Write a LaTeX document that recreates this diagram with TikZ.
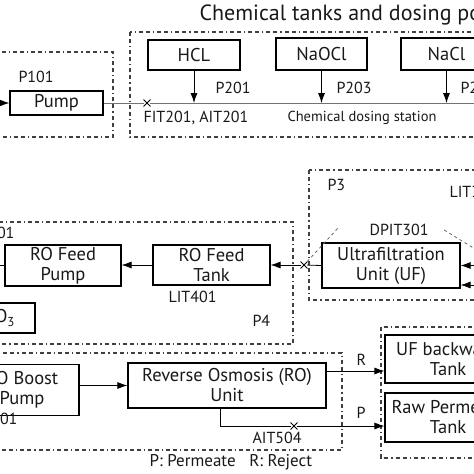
\documentclass[tikz,border=0pt]{standalone}
\usepackage{fontspec}
\setmainfont{PT Sans}
\usetikzlibrary{arrows.meta,shapes.misc}

\begin{document}
\begin{tikzpicture}[x=1pt, y=-1pt,
  unitbox/.style={draw, line width=1.2pt, align=center, inner sep=0pt, text=black!90, font=\fontsize{18.5}{20}\selectfont},
  tag/.style={text=black!90, font=\fontsize{16}{18}\selectfont, anchor=west},
  stage/.style={draw=black!75, line width=1.1pt, dash pattern=on 4pt off 3pt on 4pt off 3pt on 1.2pt off 3pt},
  flow/.style={-{Latex[length=10pt,width=7pt]}, line width=0.8pt},
  sensor/.style={draw, cross out, minimum size=6pt, inner sep=0pt, line width=0.9pt},
  dp/.style={black!60, dashed, line width=0.8pt}]
  \useasboundingbox (0,0) rectangle (474,474);
  \fill[white] (0,0) rectangle (474,474);
  \clip (0,0) rectangle (474,474);

  % stage frames
  \draw[stage] (-10,52) rectangle (113,137);
  \draw[stage] (130,32) rectangle (490,137);
  \draw[stage] (309,170) rectangle (490,300);
  \draw[stage] (-10,222) rectangle (293,344);
  \draw[stage] (-10,353) rectangle (342,450);
  \draw[stage] (381,327) rectangle (490,458);

  % P1 and chemical dosing
  \node[text=black!90, font=\fontsize{22}{24}\selectfont, anchor=west] (title) at (196,15) {Chemical tanks and dosing points};
  \node[tag] (p101) at (15,77) {P101};
  \node[unitbox, minimum width=93pt, minimum height=24pt] (pump) at (56.5,103) {Pump};
  \node[unitbox, minimum width=92pt, minimum height=30pt] (hcl) at (194,55) {HCL};
  \node[unitbox, minimum width=91pt, minimum height=32pt] (naocl) at (321.5,54) {NaOCl};
  \node[unitbox, minimum width=91pt, minimum height=32pt] (nacl) at (446.5,54) {NaCl};
  \node[sensor] (x201) at (147,103) {};
  \node[tag] (fit201) at (140,118) {FIT201, AIT201};
  \node[tag] (p201) at (212,88) {P201};
  \node[tag] (p203) at (333,88) {P203};
  \node[tag] (p205) at (457,88) {P205};
  \node[text=black!90, font=\fontsize{14.5}{16}\selectfont, anchor=west] (station) at (284,118) {Chemical dosing station};
  \coordinate (rawin) at (-10,103);
  \coordinate (dosend) at (480,103);
  \draw[flow] (rawin) -- (pump.west);
  \draw[black!55, line width=0.9pt] (pump.east) -- (x201) -- (dosend);
  \foreach \tank in {hcl,naocl,nacl}
    \draw[flow] (\tank.south) -- (\tank.south |- x201);

  % P3 and P4
  \node[tag] (p3) at (324,185) {P3};
  \node[tag] (lit301) at (446,192) {LIT301};
  \node[tag] (p4) at (249,321) {P4};
  \node[tag, anchor=east] (p401) at (18,233) {P401};
  \node[unitbox, minimum width=116pt, minimum height=41pt] (rofp) at (63,265.5) {RO Feed\\Pump};
  \node[unitbox, minimum width=117pt, minimum height=40pt] (roft) at (211.5,265) {RO Feed\\Tank};
  \node[unitbox, minimum width=138pt, minimum height=45pt] (uf) at (391,265.5) {Ultrafiltration\\Unit (UF)};
  \node[unitbox, minimum width=104pt, minimum height=30pt] (nahso) at (-17,318) {NaHSO\textsubscript{3}};
  \node[tag] (lit401) at (165,297) {LIT401};
  \node[tag] (dpit) at (366,230) {DPIT301};
  \node[sensor] (x301) at (304,265) {};
  \coordinate (rofpout) at (-5,265.5);
  \coordinate (ufin1) at (480,265.5);
  \coordinate (ufin2) at (480,285);
  \coordinate (dpend) at (480,252);
  \draw[line width=0.8pt] (rofp.west) -- (rofpout);
  \draw[flow] (roft.west) -- (roft.west -| rofp.east);
  \draw[line width=0.8pt] (uf.west) -- (x301);
  \draw[flow] (x301) -- (x301 -| roft.east);
  \draw[flow] (ufin1) -- (uf.east);
  \draw[flow] (ufin2) -- (ufin2 -| uf.east);
  \draw[dp] (x301) -- ([xshift=-28pt,yshift=2pt]dpit.west);
  \draw[dp] ([xshift=12pt]dpit.east) -- (dpend);

  % P5 and P6
  \node[unitbox, minimum width=114pt, minimum height=51pt] (robp) at (22,390) {RO Boost\\Pump};
  \node[tag, anchor=east] (p501) at (21,419) {P501};
  \node[unitbox, minimum width=198pt, minimum height=45pt] (rou) at (227,385.5) {Reverse Osmosis (RO)\\Unit};
  \node[unitbox, minimum width=126pt, minimum height=48pt] (ufb) at (448,359) {UF backwash\\Tank};
  \node[unitbox, minimum width=126pt, minimum height=49pt] (rpt) at (448,417.5) {Raw Permeate\\Tank};
  \node[sensor] (x504) at (294,426) {};
  \node[tag] (ait504) at (249,438) {AIT504};
  \node[tag] (rlbl) at (353,360) {R};
  \node[tag] (plbl) at (353,413) {P};
  \node[tag, font=\fontsize{17}{18}\selectfont] (legend) at (146,462) {P: Permeate \ \ R: Reject};
  \coordinate (rstart) at ([yshift=14.5pt]rou.east);
  \draw[flow] (rou.west -| robp.east) -- (rou.west);
  \draw[flow] (rstart) -- (rstart -| ufb.west);
  \draw[line width=0.8pt] ([xshift=-7pt]rou.south) |- (x504);
  \draw[flow] (x504) -- (x504 -| rpt.west);
\end{tikzpicture}
\end{document}
